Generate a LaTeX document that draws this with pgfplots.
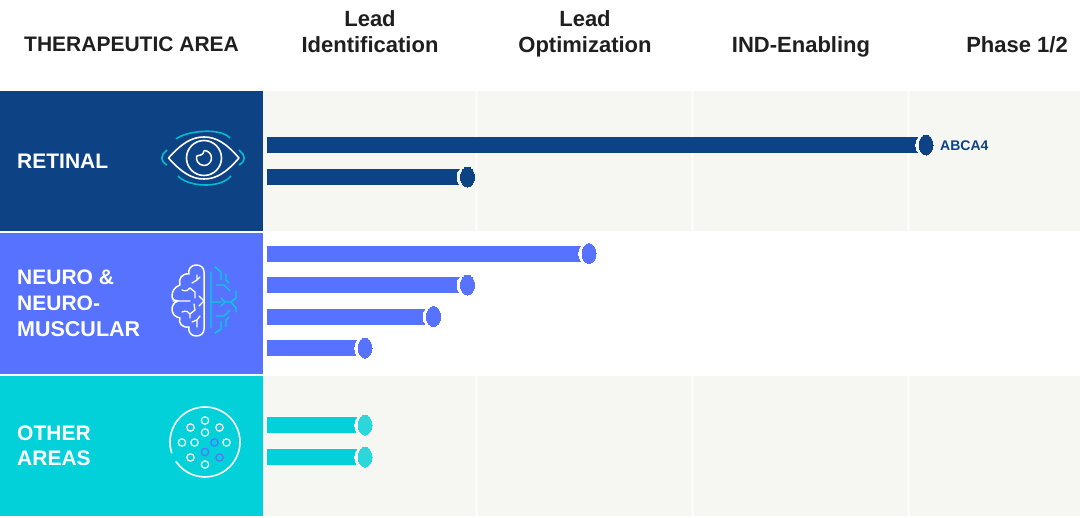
\documentclass[border=0pt]{standalone}
\usepackage{fontspec}
\setmainfont{Liberation Sans}
\usepackage{pgfplots}
\pgfplotsset{compat=1.18}
\definecolor{navy}{HTML}{0D4285}
\definecolor{peri}{HTML}{5672FF}
\definecolor{teal}{HTML}{02D1DA}
\definecolor{dteal}{HTML}{2AD8DC}
\definecolor{eyec}{HTML}{00BDD0}
\definecolor{pale}{HTML}{F6F6F2}
\newcommand{\prog}[6]{% colour, dot colour, background, y, bar end, dot centre
  \addplot[draw=#1,line width=16pt,forget plot] coordinates {(267,#4) (#5,#4)};
  \addplot[only marks,mark=*,mark size=11.5pt,mark options={xscale=.9,line width=0pt,draw=#3,fill=#3},forget plot] coordinates {(#6,#4)};
  \addplot[only marks,mark=*,mark size=10pt,mark options={xscale=.7,line width=0pt,draw=#2,fill=#2},forget plot] coordinates {(#6,#4)};
}
\begin{document}
\begin{tikzpicture}
\useasboundingbox (0,0) rectangle (1080pt,-518pt);
\begin{axis}[
  at={(0pt,-91pt)},anchor=north west,
  scale only axis,width=1080pt,height=427pt,
  xmin=0,xmax=1080,ymin=91,ymax=518,y dir=reverse,
  clip=false,
  axis line style={draw=none},major tick length=0pt,
  ytick=\empty,
  xtick={370,585,801,1017},
  xticklabels={{Lead\\Identification},{Lead\\Optimization},{IND-Enabling},{Phase 1/2}},
  xticklabel pos=upper,
  xticklabel style={align=center,anchor=base,yshift=39pt,font=\fontsize{22}{25.5}\selectfont\bfseries,text=black!88},
]
\fill[pale] (axis cs:263,91) rectangle (axis cs:1080,231);
\fill[pale] (axis cs:263,375.5) rectangle (axis cs:1080,516);
\fill[white!55!pale] (axis cs:474.5,91) rectangle (axis cs:477.5,231);
\fill[white!55!pale] (axis cs:690.5,91) rectangle (axis cs:693.5,231);
\fill[white!55!pale] (axis cs:906.5,91) rectangle (axis cs:909.5,231);
\fill[white!55!pale] (axis cs:474.5,375.5) rectangle (axis cs:477.5,516);
\fill[white!55!pale] (axis cs:690.5,375.5) rectangle (axis cs:693.5,516);
\fill[white!55!pale] (axis cs:906.5,375.5) rectangle (axis cs:909.5,516);
\fill[navy] (axis cs:0,91) rectangle (axis cs:262.5,231);
\fill[peri] (axis cs:0,233) rectangle (axis cs:262.5,373.5);
\fill[teal] (axis cs:0,375.5) rectangle (axis cs:262.5,516);
\prog{navy}{navy}{pale}{145}{918.5}{926}
\prog{navy}{navy}{pale}{177}{460}{467.5}
\prog{peri}{peri}{white}{253.5}{582}{589}
\prog{peri}{peri}{white}{285}{460}{467.5}
\prog{peri}{peri}{white}{316.5}{426.5}{433.5}
\prog{peri}{peri}{white}{348}{358}{365}
\prog{teal}{dteal}{pale}{425}{358}{365}
\prog{teal}{dteal}{pale}{457}{358}{365}
\end{axis}
\begin{scope}[x=1pt,y=-1pt]
\def\hf{\fontsize{21}{25.5}\selectfont\bfseries}
\node[anchor=base west,inner sep=0,text=black!88,font=\fontsize{21}{25}\selectfont\bfseries] at (24,52) {THERAPEUTIC AREA};
\node[anchor=base west,inner sep=0,text=white,font=\hf] at (17,168.5) {RETINAL};
\node[anchor=base west,inner sep=0,text=white,font=\hf] at (17,285) {NEURO \&};
\node[anchor=base west,inner sep=0,text=white,font=\hf] at (17,311) {NEURO-};
\node[anchor=base west,inner sep=0,text=white,font=\fontsize{21.5}{25.5}\selectfont\bfseries] at (17,336.5) {MUSCULAR};
\node[anchor=base west,inner sep=0,text=white,font=\hf] at (17,440.5) {OTHER};
\node[anchor=base west,inner sep=0,text=white,font=\hf] at (17,466) {AREAS};
\node[anchor=base west,inner sep=0,text=navy,font=\fontsize{14}{16}\selectfont\bfseries] at (940,150.5) {ABCA4};
% eye icon
\draw[white,line width=1.6pt,line join=round] (168.5,158) .. controls (182,143) and (192,137) .. (204,137) .. controls (216,137) and (226,143) .. (239,158) .. controls (226,173) and (216,179) .. (204,179) .. controls (192,179) and (182,173) .. (168.5,158) -- cycle;
\draw[white,line width=1.6pt] (204,158) circle (17.5);
\draw[white,line width=1.5pt,line join=round] (204,150.5) arc [start angle=-90,end angle=195,radius=7.5] .. controls (200,154.5) and (203.5,156) .. (204,150.5);
\draw[eyec,line width=1.6pt] (176,139) .. controls (186,131) and (220,127) .. (230,138);
\draw[eyec,line width=1.6pt] (178,176) .. controls (188,187) and (220,189) .. (231,176);
\draw[eyec,line width=1.6pt] (167,150) .. controls (160,156) and (160,161) .. (167,165);
\draw[eyec,line width=1.6pt] (239,150) .. controls (246,156) and (246,161) .. (239,165);
% brain icon
\draw[white,line width=1.5pt,line join=round,line cap=round]
  (204,272) .. controls (204,267) and (200,265) .. (196,265) .. controls (191,265) and (188,269) .. (189,274)
  .. controls (182,273) and (178,279) .. (180,285) .. controls (174,287) and (172,292) .. (172,296)
  .. controls (172,300) and (175,301) .. (178,301) .. controls (174,302) and (172,306) .. (172,309)
  .. controls (172,314) and (175,317) .. (180,318) .. controls (178,323) and (182,328) .. (189,327)
  .. controls (188,332) and (191,336) .. (196,336) .. controls (200,336) and (204,334) .. (204,329) -- cycle;
\draw[white,line width=1.3pt,line cap=round]
  (173,301) -- (190,301)
  (182,290) .. controls (186,292) and (189,290) .. (190,288) -- (195,292) -- (195,298)
  (192,283) -- (197,280) -- (197,275) (197,280) -- (200,277)
  (182,312) .. controls (186,310) and (189,312) .. (190,314) -- (190,318) (190,314) -- (195,310) -- (194,304)
  (192,322) -- (197,320) -- (200,316) (197,320) -- (197,327)
  (199,296) -- (204,301) -- (199,306);
\draw[teal,line width=1.4pt,line cap=round,line join=round] (211,272) -- (211,328)
 (215,267) -- (221,272) -- (221,280) (226,274) -- (226,280) -- (229,283) (216,285) -- (224,285) -- (230,291)
 (236,291) -- (236,298) -- (231,302) -- (236,308) -- (236,312) (231,302) -- (225,302) -- (221,298) (225,302) -- (221,306) (212,302) -- (221,302)
 (216,316) -- (224,316) -- (230,310) (226,327) -- (226,320) -- (229,317) (215,333) -- (221,329) -- (221,321);
% other icon
\draw[white,line width=1.6pt,line cap=round] (171.7,452.8) arc [start angle=162,end angle=505.7,radius=35];
\foreach \x/\y in {205/420.5,190.5/427.5,219.5/427.5,205/432.5,182/442.5,194.5/442.5,226.5/442.5,190.5/457.5,205/464.5}
  \draw[white,line width=1.2pt] (\x,\y) circle (3.7);
\foreach \x/\y in {214.5/442.5,205/452,219.5/457.5}
  \draw[peri,line width=1.2pt] (\x,\y) circle (3.7);
\end{scope}
\end{tikzpicture}
\end{document}
